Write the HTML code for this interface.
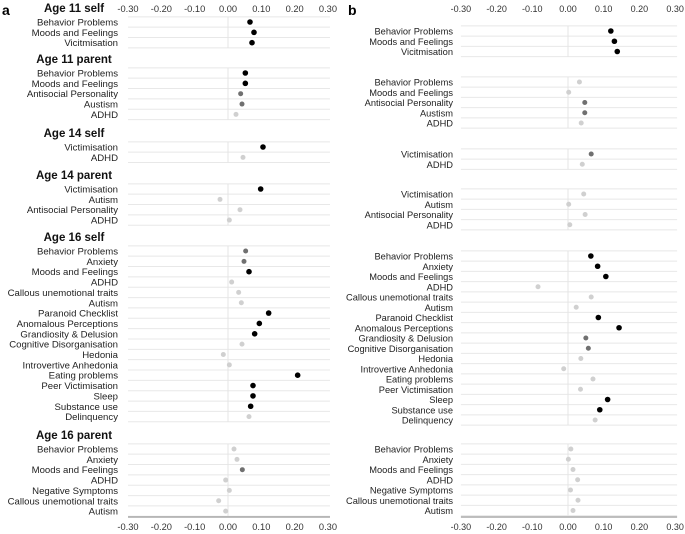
<!DOCTYPE html>
<html><head><meta charset="utf-8"><style>
body{margin:0;background:#fff;}
svg{display:block;font-family:"Liberation Sans",sans-serif;}
</style></head><body>
<svg id="chart" width="685" height="534" viewBox="0 0 685 534" xmlns="http://www.w3.org/2000/svg">
<text x="2" y="15" font-size="14" font-weight="bold">a</text>
<text x="348" y="15" font-size="14" font-weight="bold">b</text>
</svg>
<script>
const groupTitles = ["Age 11 self","Age 11 parent","Age 14 self","Age 14 parent","Age 16 self","Age 16 parent"];
const groupLabels = [
 ["Behavior Problems","Moods and Feelings","Vicitmisation"],
 ["Behavior Problems","Moods and Feelings","Antisocial Personality","Austism","ADHD"],
 ["Victimisation","ADHD"],
 ["Victimisation","Autism","Antisocial Personality","ADHD"],
 ["Behavior Problems","Anxiety","Moods and Feelings","ADHD","Callous unemotional traits","Autism","Paranoid Checklist","Anomalous Perceptions","Grandiosity & Delusion","Cognitive Disorganisation","Hedonia","Introvertive Anhedonia","Eating problems","Peer Victimisation","Sleep","Substance use","Delinquency"],
 ["Behavior Problems","Anxiety","Moods and Feelings","ADHD","Negative Symptoms","Callous unemotional traits","Autism"]
];
const tickValues = [-0.3,-0.2,-0.1,0,0.1,0.2,0.3];
const tickLabels = ["-0.30","-0.20","-0.10","0.00","0.10","0.20","0.30"];
const valuesA = [
 [0.066,0.078,0.072],
 [0.052,0.052,0.038,0.042,0.024],
 [0.105,0.045],
 [0.098,-0.024,0.036,0.004],
 [0.053,0.048,0.063,0.011,0.032,0.040,0.122,0.094,0.080,0.042,-0.014,0.004,0.209,0.075,0.075,0.068,0.063],
 [0.018,0.027,0.043,-0.007,0.004,-0.028,-0.007]
];
const sigA = [
 [2,2,2],[2,2,1,1,0],[2,0],[2,0,0,0],
 [1,1,2,0,0,0,2,2,2,0,0,0,2,2,2,2,0],
 [0,0,1,0,0,0,0]
];
const valuesB = [
 [0.120,0.130,0.138],
 [0.032,0.002,0.047,0.047,0.037],
 [0.065,0.040],
 [0.044,0.002,0.048,0.005],
 [0.064,0.083,0.106,-0.084,0.065,0.023,0.085,0.143,0.050,0.057,0.036,-0.012,0.070,0.035,0.111,0.089,0.076],
 [0.008,0.001,0.014,0.027,0.007,0.028,0.014]
];
const sigB = [
 [2,2,2],[0,0,1,1,0],[1,0],[0,0,0,0],
 [2,2,2,0,0,0,2,2,1,1,0,0,0,0,2,2,0],
 [0,0,0,0,0,0,0]
];
const NS="http://www.w3.org/2000/svg";
const svg=document.getElementById('chart');
const colors=["#d0d0d0","#707070","#000000"];
function mk(tag,attrs,parent){const e=document.createElementNS(NS,tag);for(const k in attrs)e.setAttribute(k,attrs[k]);(parent||svg).appendChild(e);return e;}
function panel(cfg){
 const xs=v=>cfg.zero+v*cfg.scale;
 const g=mk('g',{});
 
 
 const step=cfg.step;
 groupTitles.forEach((t,gi)=>{
  const y0=cfg.starts[gi];
  const n=groupLabels[gi].length;
  if(cfg.titles){
   const ht=mk('text',{x:74,y:cfg.starts[gi]-10,'font-size':11.5,'font-weight':'bold','text-anchor':'middle',fill:'#111'},g);
   ht.textContent=t;
   
   
  }
  for(let i=0;i<=n;i++){
   const yy=y0-step/2+i*step;
   const ln=mk('line',{x1:xs(-0.3),x2:xs(0.3)+2,y1:yy,y2:yy,stroke:'#e8e8e8','stroke-width':1},g);
   
   
  }
  const zl=mk('line',{x1:xs(0),x2:xs(0),y1:y0-step/2,y2:y0-step/2+n*step,stroke:'#e4e4e4','stroke-width':1},g);
  
  
  groupLabels[gi].forEach((lab,i)=>{
   const y=y0+i*step;
   const tx=mk('text',{x:cfg.labelX,y:y+3.5,'font-size':cfg.fs,'text-anchor':'end',fill:'#222'},g);
   tx.textContent=lab;
   
   
   const v=cfg.values[gi][i], s=cfg.sig[gi][i];
   const c=mk('circle',{cx:xs(v),cy:y,r:s===2?2.8:2.5,fill:colors[s]},g);
   
   
  });
 });
 tickValues.forEach((v,i)=>{
  const t1=mk('text',{x:xs(v),y:12,'font-size':cfg.tfs,'text-anchor':'middle',fill:'#333'},g);
  t1.textContent=tickLabels[i];
  
  
  const t2=mk('text',{x:xs(v),y:530,'font-size':cfg.tfs,'text-anchor':'middle',fill:'#333'},g);
  t2.textContent=tickLabels[i];
  
  
 });
 const ax=mk('line',{x1:xs(-0.3),x2:xs(0.3)+2,y1:517,y2:517,stroke:'#999','stroke-width':1.2},g);
 
 
}
panel({name:'panel-a',zero:228,scale:333.3,step:10.35,starts:[22,73,147,189,251,449],labelX:118,fs:9.6,tfs:9.3,titles:true,values:valuesA,sig:sigA});
panel({name:'panel-b',zero:568,scale:357,step:10.25,starts:[31,82,154,194,256,449],labelX:453,fs:9.3,tfs:9,titles:false,values:valuesB,sig:sigB});
</script>
</body></html>
